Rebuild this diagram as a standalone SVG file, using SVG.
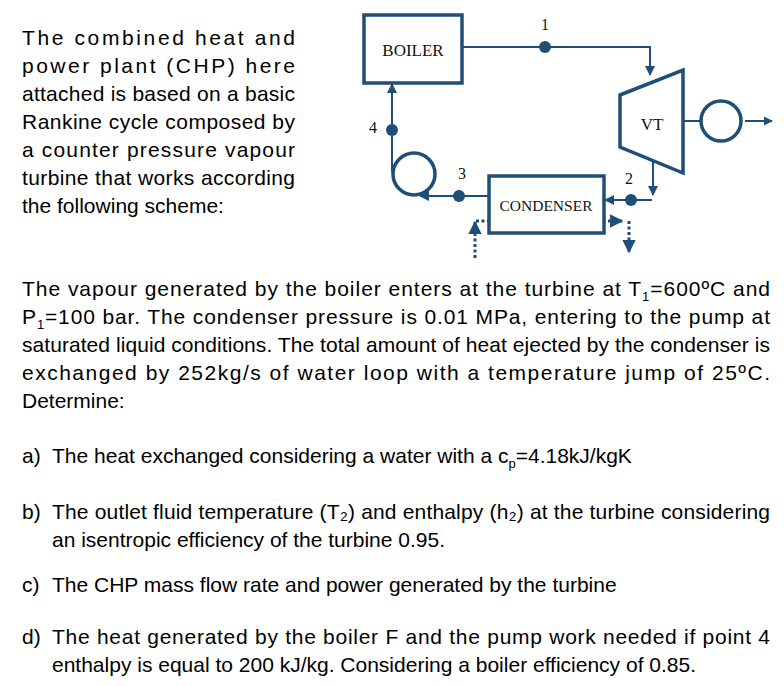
<svg xmlns="http://www.w3.org/2000/svg" width="784" height="686" viewBox="0 0 784 686">
<style>
.t{font-family:"Liberation Sans",Arial,sans-serif;font-size:21px;fill:#000}
.s{font-family:"Liberation Serif","Times New Roman",serif;fill:#111}
.ln{stroke:#1f4e79;fill:none;stroke-width:2}
.bx{stroke:#1f4e79;fill:#fff;stroke-width:3.5}
.dt{fill:#1f4e79}
.do{stroke:#1f4e79;fill:none;stroke-width:3;stroke-dasharray:3,2.5}
</style>
<defs>
<marker id="a" viewBox="0 0 10 10" refX="9" refY="5" markerWidth="5" markerHeight="5" orient="auto"><path d="M0,0L10,5L0,10z" fill="#1f4e79"/></marker>
<marker id="b" viewBox="0 0 10 10" refX="9" refY="5" markerWidth="4.5" markerHeight="4.5" orient="auto"><path d="M0,0L10,5L0,10z" fill="#1f4e79"/></marker>
</defs>
<g id="connectors">
<path class="ln" d="M462,47H650V75" marker-end="url(#a)"/>
<path class="ln" d="M653,162V195" marker-end="url(#a)"/>
<path class="ln" d="M652,200H605" marker-end="url(#a)"/>
<path class="ln" d="M489,196H420" marker-end="url(#a)"/>
<path class="ln" d="M392,172V84" marker-end="url(#a)"/>
<path class="ln" d="M683,121H700" stroke-width="4"/>
<path class="ln" d="M745,121H772" stroke-width="4" marker-end="url(#b)"/>
<path class="do" d="M475,258V222" marker-end="url(#b)"/>
<path class="do" d="M476,221H622" marker-end="url(#b)"/>
<path class="do" d="M629,221V252" marker-end="url(#b)"/>
<circle class="dt" cx="545" cy="47" r="6"/>
<circle class="dt" cx="631" cy="200" r="6"/>
<circle class="dt" cx="459" cy="196" r="6"/>
<circle class="dt" cx="392" cy="130" r="6"/>
<text class="s" x="545" y="30" font-size="16" text-anchor="middle">1</text>
<text class="s" x="629" y="184" font-size="16" text-anchor="middle">2</text>
<text class="s" x="462" y="179" font-size="16" text-anchor="middle">3</text>
<text class="s" x="373" y="133" font-size="16" text-anchor="middle">4</text>
</g>
<g id="boiler"><rect class="bx" x="364" y="15" width="98" height="68"/><text class="s" x="413" y="56" font-size="17" text-anchor="middle">BOILER</text></g>
<g id="turbine"><path class="bx" d="M620,95L683,70V173L620,147Z" stroke-width="3"/><text class="s" x="652" y="130" font-size="17" text-anchor="middle">VT</text></g>
<g id="generator"><circle class="bx" cx="721" cy="121" r="20" stroke-width="3"/></g>
<g id="pump"><circle class="bx" cx="414" cy="174" r="21" stroke-width="4" fill="none"/></g>
<g id="condenser"><rect class="bx" x="489" y="176" width="115" height="57"/><text class="s" x="546" y="211" font-size="15.5" text-anchor="middle">CONDENSER</text></g>
<g id="text">
<text class="t" x="22" y="45" textLength="273" lengthAdjust="spacing">The combined heat and</text>
<text class="t" x="22" y="73" textLength="273" lengthAdjust="spacing">power plant (CHP) here</text>
<text class="t" x="22" y="101" textLength="273" lengthAdjust="spacing">attached is based on a basic</text>
<text class="t" x="22" y="129" textLength="273" lengthAdjust="spacing">Rankine cycle composed by</text>
<text class="t" x="22" y="157" textLength="273" lengthAdjust="spacing">a counter pressure vapour</text>
<text class="t" x="22" y="185" textLength="273" lengthAdjust="spacing">turbine that works according</text>
<text class="t" x="22" y="213">the following scheme:</text>
<text class="t" x="22" y="296" textLength="748" lengthAdjust="spacing">The vapour generated by the boiler enters at the turbine at T<tspan font-size="13" dy="5">1</tspan><tspan dy="-5">=600ºC and</tspan></text>
<text class="t" x="22" y="324" textLength="748" lengthAdjust="spacing">P<tspan font-size="13" dy="5">1</tspan><tspan dy="-5">=100 bar. The condenser pressure is 0.01 MPa, entering to the pump at</tspan></text>
<text class="t" x="22" y="352" textLength="748" lengthAdjust="spacing">saturated liquid conditions. The total amount of heat ejected by the condenser is</text>
<text class="t" x="22" y="380" textLength="748" lengthAdjust="spacing">exchanged by 252kg/s of water loop with a temperature jump of 25ºC.</text>
<text class="t" x="22" y="408">Determine:</text>
<text class="t" x="22" y="463">a)</text><text class="t" x="52" y="463">The heat exchanged considering a water with a c<tspan font-size="13" dy="5">p</tspan><tspan dy="-5">=4.18kJ/kgK</tspan></text>
<text class="t" x="22" y="519">b)</text><text class="t" x="52" y="519" textLength="718" lengthAdjust="spacing">The outlet fluid temperature (T₂)  and enthalpy (h₂) at the turbine considering</text>
<text class="t" x="52" y="547">an isentropic efficiency of the turbine 0.95.</text>
<text class="t" x="22" y="592">c)</text><text class="t" x="52" y="592">The CHP mass flow rate and power generated by the turbine</text>
<text class="t" x="22" y="644">d)</text><text class="t" x="52" y="644" textLength="718" lengthAdjust="spacing">The heat generated by the boiler F and the pump work needed if point 4</text>
<text class="t" x="52" y="672">enthalpy is equal to 200 kJ/kg. Considering a boiler efficiency of 0.85.</text>
</g>
</svg>
